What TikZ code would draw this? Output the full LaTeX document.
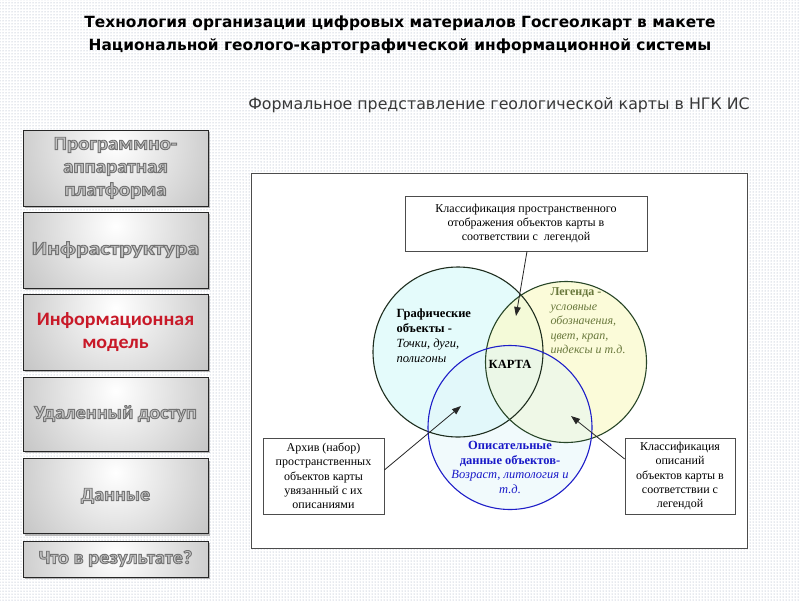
\documentclass[tikz,border=0pt]{standalone}
\usepackage{fontspec}
\usepackage{graphicx}
\setmainfont{Liberation Serif}
\newfontfamily\titlefont{DejaVu Sans}
\newfontfamily\btnfont{Carlito}
\usetikzlibrary{patterns,shadows,arrows.meta}
\definecolor{dotc}{RGB}{150,160,185}
\definecolor{cyanfill}{RGB}{228,251,251}
\definecolor{yelfill}{RGB}{250,250,205}
\definecolor{bluefill}{RGB}{225,245,250}
\definecolor{gborder}{RGB}{30,45,30}
\definecolor{yborder}{RGB}{40,70,40}
\definecolor{bborder}{RGB}{30,30,200}
\definecolor{olive}{RGB}{105,120,60}
\definecolor{bluetext}{RGB}{25,25,200}
\definecolor{redtext}{RGB}{200,25,40}
\newcommand\btntext[2]{{\color{black!22}\special{pdf:literal direct q 2 Tr 0.9 w 0.45 G}%
  \scalebox{#1}[1]{\begin{tabular}{@{}c@{}}#2\end{tabular}}\special{pdf:literal direct Q}}}
\tikzset{
  btn/.style={rectangle, draw=black!85, line width=1pt, minimum width=185pt, minimum height=75pt,
    fill=black!45, inner sep=0pt,
    path picture={\shade[inner color=white, outer color=black!44]
      ([yshift=-14pt]path picture bounding box.north) circle (215pt);},
    drop shadow={shadow xshift=2pt, shadow yshift=-2pt, opacity=.55},
    font=\btnfont\bfseries\fontsize{19}{23}\selectfont},
  circ/.style={circle, minimum size=#1, inner sep=0pt},
  infobox/.style={rectangle, draw=black!70, line width=.7pt, fill=white, align=center,
    inner sep=0pt, font=\fontsize{12}{14.3}\selectfont},
  arr/.style={-{Triangle[length=9pt,width=6.5pt]}, line width=.8pt, black!85},
}
\begin{document}
\begin{tikzpicture}[x=1pt,y=-1pt]
\useasboundingbox (0,0) rectangle (800,600);
\fill[white] (0,0) rectangle (800,600);
\fill[pattern=dots, pattern color=dotc] (0,0) rectangle (800,600);
% titles
\node[font=\titlefont\bfseries\fontsize{15.4}{23}\selectfont, align=center] (title) at (400,35)
  {Технология организации цифровых материалов Госгеолкарт в макете\\Национальной геолого-картографической информационной системы};
\node[font=\titlefont\fontsize{15.8}{18}\selectfont, text=black!78] (sub) at (499,105)
  {Формальное представление геологической карты в НГК ИС};
% buttons
\node[btn, minimum height=76pt] (b1) at (115.5,168) {\btntext{1.1}{Программно-\\аппаратная\\платформа}};
\node[btn, minimum height=76pt] (b2) at (115.5,250) {\btntext{1.24}{Инфраструктура}};
\node[btn, minimum height=76pt, text=redtext] (b3) at (115.5,332) {\scalebox{1.05}[1]{\begin{tabular}{@{}c@{}}Информационная\\модель\end{tabular}}};
\node[btn, minimum height=74pt] (b4) at (115.5,414) {\btntext{1.06}{Удаленный доступ}};
\node[btn, minimum height=75pt] (b5) at (115.5,496) {\btntext{1.05}{Данные}};
\node[btn, minimum height=36pt] (b6) at (115.5,559) {\btntext{1.07}{Что в результате?}};
% panel
\node[rectangle, draw=black!70, line width=.8pt, fill=white, minimum width=496pt, minimum height=375pt, inner sep=0pt] (panel) at (499,360.5) {};
% circles fills
\node[circ=170pt, fill=cyanfill] (g) at (458,352) {};
\node[circ=161pt, fill=yelfill, fill opacity=.75] (l) at (566,362) {};
\node[circ=164pt, fill=bluefill, fill opacity=.45] (o) at (510,427.5) {};
% outlines
\draw[gborder, line width=1.1pt] (g.center) circle (85pt);
\draw[yborder, line width=1.1pt] (l.center) circle (80.5pt);
\draw[bborder, line width=1.1pt] (o.center) circle (82pt);
% circle texts
\node[anchor=west, align=left, font=\fontsize{12.5}{15}\selectfont] (gt) at (393,336)
  {\textbf{Графические}\\\textbf{объекты -}\\\textit{Точки, дуги,}\\\textit{полигоны}};
\node[anchor=west, align=left, text=olive, font=\fontsize{12}{14.5}\selectfont] (lt) at (547,321)
  {\textbf{Легенда -}\\\textit{условные}\\\textit{обозначения,}\\\textit{цвет, крап,}\\\textit{индексы и т.д.}};
\node[font=\bfseries\fontsize{12.5}{15}\selectfont] (karta) at (510,364) {КАРТА};
\node[align=center, text=bluetext, font=\fontsize{12.5}{14.5}\selectfont] (ot) at (510,467.5)
  {\textbf{Описательные}\\\textbf{данные объектов-}\\\textit{Возраст, литология и}\\\textit{т.д.}};
% info boxes
\node[infobox, minimum width=242pt, minimum height=55pt] (top) at (526,223.5)
  {Классификация пространственного\\отображения объектов карты в\\соответствии с\ \ легендой};
\node[infobox, minimum width=121pt, minimum height=76pt] (lb) at (323.5,476)
  {Архив (набор)\\пространственных\\объектов карты\\увязанный с их\\описаниями};
\node[infobox, minimum width=110pt, minimum height=76pt] (rb) at (680,476)
  {Классификация\\описаний\\объектов карты в\\соответствии с\\легендой};
% arrows
\coordinate (a1) at (516,316);
\coordinate (a2) at (461,406);
\coordinate (a3) at (571,416);
\draw[arr] ([xshift=1pt]top.south) -- (a1);
\draw[arr] ([yshift=6pt]lb.east) -- (a2);
\draw[arr] ([yshift=17pt]rb.west) -- (a3);
\end{tikzpicture}
\end{document}
